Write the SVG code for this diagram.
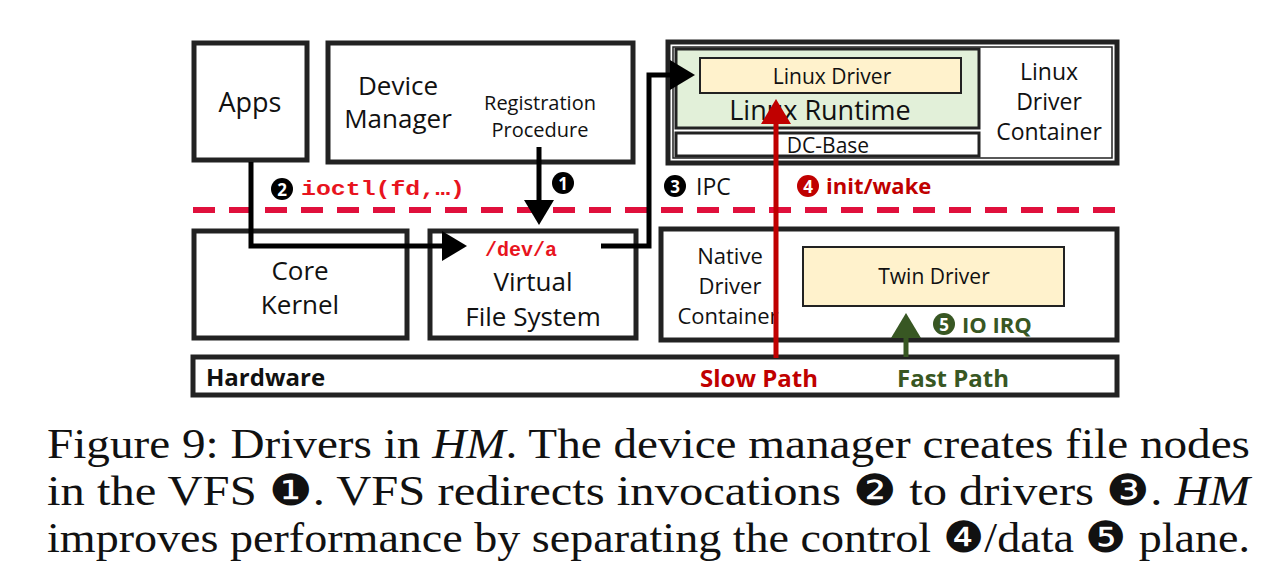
<svg xmlns="http://www.w3.org/2000/svg" width="1265" height="576" viewBox="0 0 1265 576">
<style>
.b{fill:#fff;stroke:#222;stroke-width:5}
.t{font-family:"Open Sans","DejaVu Sans",sans-serif;fill:#111;text-anchor:middle}
.m{font-family:"Liberation Mono",monospace;font-weight:bold;fill:#e8141e}
.c{font-family:"Liberation Serif",serif;font-size:43px;fill:#111}
.k{stroke:#000;stroke-width:5;fill:none}
</style>
<defs>
<marker id="ak" markerWidth="6" markerHeight="6" refX="4" refY="3" orient="auto" markerUnits="strokeWidth"><path d="M0,0 L5,3 L0,6z" fill="#000"/></marker>
<marker id="ar" markerWidth="6" markerHeight="6" refX="4" refY="3" orient="auto" markerUnits="strokeWidth"><path d="M0,0 L5,3 L0,6z" fill="#c00000"/></marker>
<marker id="ag" markerWidth="6" markerHeight="6" refX="4" refY="3" orient="auto" markerUnits="strokeWidth"><path d="M0,0 L5,3 L0,6z" fill="#385723"/></marker>
</defs>
<rect width="1265" height="576" fill="#fff"/>
<g id="apps"><rect class="b" x="194" y="43" width="113" height="117"/><text class="t" x="250" y="112" font-size="27">Apps</text></g>
<g id="devmgr"><rect class="b" x="328" y="43" width="305" height="119"/>
<text class="t" x="398" y="95" font-size="26">Device</text><text class="t" x="398" y="128" font-size="26">Manager</text>
<text class="t" x="540" y="110" font-size="20">Registration</text><text class="t" x="540" y="137" font-size="20">Procedure</text></g>
<g id="ldc"><rect class="b" x="668" y="42" width="449" height="121"/><rect x="673" y="47" width="439" height="111" fill="#fff" stroke="#222" stroke-width="1.5"/>
<rect x="676" y="49" width="303" height="79" fill="#e2f0d9" stroke="#222" stroke-width="3"/>
<text class="t" x="820" y="120" font-size="27">Linux Runtime</text>
<rect x="676" y="133" width="303" height="23" fill="#fff" stroke="#222" stroke-width="3"/>
<text class="t" x="828" y="153" font-size="21">DC-Base</text>
<text class="t" x="1049" y="80" font-size="23">Linux</text><text class="t" x="1049" y="110" font-size="23">Driver</text><text class="t" x="1049" y="140" font-size="23">Container</text></g>
<g id="linuxdriver"><rect x="700" y="58" width="261" height="35" fill="#fff2cc" stroke="#222" stroke-width="2"/><text class="t" x="832" y="84" font-size="21">Linux Driver</text></g>
<g id="core"><rect class="b" x="194" y="231" width="213" height="107"/><text class="t" x="300" y="280" font-size="26">Core</text><text class="t" x="300" y="314" font-size="26">Kernel</text></g>
<g id="vfs"><rect class="b" x="430" y="231" width="206" height="107"/>
<text class="m" x="521" y="256" font-size="20" text-anchor="middle">/dev/a</text>
<text class="t" x="533" y="291" font-size="26">Virtual</text><text class="t" x="533" y="326" font-size="26">File System</text></g>
<g id="ndc"><rect class="b" x="661" y="229" width="456" height="111"/>
<text class="t" x="730" y="264" font-size="22">Native</text><text class="t" x="730" y="294" font-size="22">Driver</text><text class="t" x="728" y="324" font-size="22">Container</text></g>
<g id="twin"><rect x="803" y="247" width="261" height="59" fill="#fff2cc" stroke="#222" stroke-width="2"/><text class="t" x="934" y="284" font-size="21">Twin Driver</text></g>
<g id="hw"><rect class="b" x="193" y="357" width="924" height="38"/><text x="206" y="386" font-family="Open Sans,sans-serif" font-weight="bold" font-size="24" fill="#111">Hardware</text></g>
<g id="connectors">
<line x1="193" y1="210" x2="1117" y2="210" stroke="#e0103c" stroke-width="6" stroke-dasharray="22,14"/>
<path class="k" d="M251,162 V246 H462" marker-end="url(#ak)"/>
<path class="k" d="M539,147 V220" marker-end="url(#ak)"/>
<path class="k" d="M601,246 H649 V75 H690" marker-end="url(#ak)"/>
<path d="M776,358 V104" stroke="#c00000" stroke-width="5" fill="none" marker-end="url(#ar)"/>
<path d="M906,357 V318" stroke="#385723" stroke-width="5" fill="none" marker-end="url(#ag)"/>
</g>
<g id="labels" font-family="Open Sans,sans-serif">
<circle cx="282" cy="189" r="11" fill="#000"/><text x="282" y="196" font-size="17" font-weight="bold" fill="#fff" text-anchor="middle">2</text>
<text class="m" x="301" y="195" font-size="21" textLength="164" lengthAdjust="spacingAndGlyphs">ioctl(fd,…)</text>
<circle cx="563" cy="183" r="11" fill="#000"/><text x="563" y="190" font-size="17" font-weight="bold" fill="#fff" text-anchor="middle">1</text>
<circle cx="675" cy="186" r="11" fill="#000"/><text x="675" y="193" font-size="17" font-weight="bold" fill="#fff" text-anchor="middle">3</text>
<text x="696" y="195" font-size="23" fill="#111">IPC</text>
<circle cx="808" cy="186" r="11" fill="#c00000"/><text x="808" y="193" font-size="17" font-weight="bold" fill="#fff" text-anchor="middle">4</text>
<text x="826" y="194" font-size="22" font-weight="bold" fill="#c00000">init/wake</text>
<circle cx="944" cy="324" r="11" fill="#385723"/><text x="944" y="331" font-size="17" font-weight="bold" fill="#fff" text-anchor="middle">5</text>
<text x="962" y="333" font-size="22" font-weight="bold" fill="#385723">IO IRQ</text>
<text x="700" y="387" font-size="24" font-weight="bold" fill="#c00000">Slow Path</text>
<text x="897" y="387" font-size="24" font-weight="bold" fill="#385723">Fast Path</text>
</g>
<g id="caption" class="c">
<text x="47" y="458" textLength="1203" lengthAdjust="spacingAndGlyphs">Figure 9: Drivers in <tspan font-style="italic">HM</tspan>. The device manager creates file nodes</text>
<text x="47" y="505" textLength="1203" lengthAdjust="spacingAndGlyphs">in the VFS ❶. VFS redirects invocations ❷ to drivers ❸. <tspan font-style="italic">HM</tspan></text>
<text x="47" y="552" textLength="1203" lengthAdjust="spacingAndGlyphs">improves performance by separating the control ❹/data ❺ plane.</text>
</g>
</svg>
